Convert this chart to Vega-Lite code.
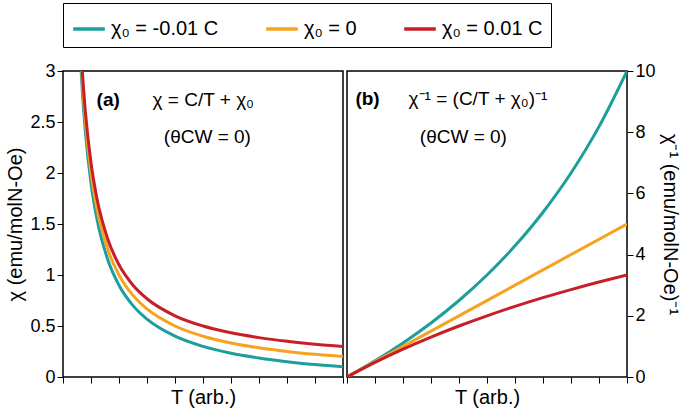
{
  "$schema": "https://vega.github.io/schema/vega-lite/v6.json",
  "background": "white",
  "padding": {"left": 5, "right": 5, "top": 2, "bottom": 5},
  "spacing": 0,
  "config": {
    "font": "Liberation Sans",
    "view": {"stroke": "black", "strokeWidth": 1.5},
    "axis": {"grid": false, "labelFontSize": 18, "titleFontSize": 20, "titleFontWeight": "normal", "domain": false, "tickColor": "black", "labelColor": "black", "titleColor": "black"},
    "legend": {"labelFontSize": 20, "symbolStrokeWidth": 3.5, "symbolSize": 1000, "symbolType": "stroke", "strokeColor": "black", "padding": 8, "columnPadding": 40, "title": null, "orient": "top", "direction": "horizontal", "offset": 14}
  },
  "datasets": {
    "curves": [
      {"panel": "a", "T": 3.0, "val": 3.233, "s": "χ₀ = -0.01 C"},
      {"panel": "a", "T": 3.5, "val": 2.757, "s": "χ₀ = -0.01 C"},
      {"panel": "a", "T": 4, "val": 2.4, "s": "χ₀ = -0.01 C"},
      {"panel": "a", "T": 5, "val": 1.9, "s": "χ₀ = -0.01 C"},
      {"panel": "a", "T": 6, "val": 1.567, "s": "χ₀ = -0.01 C"},
      {"panel": "a", "T": 8, "val": 1.15, "s": "χ₀ = -0.01 C"},
      {"panel": "a", "T": 10, "val": 0.9, "s": "χ₀ = -0.01 C"},
      {"panel": "a", "T": 12.5, "val": 0.7, "s": "χ₀ = -0.01 C"},
      {"panel": "a", "T": 15, "val": 0.567, "s": "χ₀ = -0.01 C"},
      {"panel": "a", "T": 20, "val": 0.4, "s": "χ₀ = -0.01 C"},
      {"panel": "a", "T": 25, "val": 0.3, "s": "χ₀ = -0.01 C"},
      {"panel": "a", "T": 30, "val": 0.233, "s": "χ₀ = -0.01 C"},
      {"panel": "a", "T": 35, "val": 0.186, "s": "χ₀ = -0.01 C"},
      {"panel": "a", "T": 40, "val": 0.15, "s": "χ₀ = -0.01 C"},
      {"panel": "a", "T": 45, "val": 0.122, "s": "χ₀ = -0.01 C"},
      {"panel": "a", "T": 50, "val": 0.1, "s": "χ₀ = -0.01 C"},
      {"panel": "a", "T": 3.0, "val": 3.333, "s": "χ₀ = 0"},
      {"panel": "a", "T": 3.5, "val": 2.857, "s": "χ₀ = 0"},
      {"panel": "a", "T": 4, "val": 2.5, "s": "χ₀ = 0"},
      {"panel": "a", "T": 5, "val": 2.0, "s": "χ₀ = 0"},
      {"panel": "a", "T": 6, "val": 1.667, "s": "χ₀ = 0"},
      {"panel": "a", "T": 8, "val": 1.25, "s": "χ₀ = 0"},
      {"panel": "a", "T": 10, "val": 1.0, "s": "χ₀ = 0"},
      {"panel": "a", "T": 12.5, "val": 0.8, "s": "χ₀ = 0"},
      {"panel": "a", "T": 15, "val": 0.667, "s": "χ₀ = 0"},
      {"panel": "a", "T": 20, "val": 0.5, "s": "χ₀ = 0"},
      {"panel": "a", "T": 25, "val": 0.4, "s": "χ₀ = 0"},
      {"panel": "a", "T": 30, "val": 0.333, "s": "χ₀ = 0"},
      {"panel": "a", "T": 35, "val": 0.286, "s": "χ₀ = 0"},
      {"panel": "a", "T": 40, "val": 0.25, "s": "χ₀ = 0"},
      {"panel": "a", "T": 45, "val": 0.222, "s": "χ₀ = 0"},
      {"panel": "a", "T": 50, "val": 0.2, "s": "χ₀ = 0"},
      {"panel": "a", "T": 3.0, "val": 3.433, "s": "χ₀ = 0.01 C"},
      {"panel": "a", "T": 3.5, "val": 2.957, "s": "χ₀ = 0.01 C"},
      {"panel": "a", "T": 4, "val": 2.6, "s": "χ₀ = 0.01 C"},
      {"panel": "a", "T": 5, "val": 2.1, "s": "χ₀ = 0.01 C"},
      {"panel": "a", "T": 6, "val": 1.767, "s": "χ₀ = 0.01 C"},
      {"panel": "a", "T": 8, "val": 1.35, "s": "χ₀ = 0.01 C"},
      {"panel": "a", "T": 10, "val": 1.1, "s": "χ₀ = 0.01 C"},
      {"panel": "a", "T": 12.5, "val": 0.9, "s": "χ₀ = 0.01 C"},
      {"panel": "a", "T": 15, "val": 0.767, "s": "χ₀ = 0.01 C"},
      {"panel": "a", "T": 20, "val": 0.6, "s": "χ₀ = 0.01 C"},
      {"panel": "a", "T": 25, "val": 0.5, "s": "χ₀ = 0.01 C"},
      {"panel": "a", "T": 30, "val": 0.433, "s": "χ₀ = 0.01 C"},
      {"panel": "a", "T": 35, "val": 0.386, "s": "χ₀ = 0.01 C"},
      {"panel": "a", "T": 40, "val": 0.35, "s": "χ₀ = 0.01 C"},
      {"panel": "a", "T": 45, "val": 0.322, "s": "χ₀ = 0.01 C"},
      {"panel": "a", "T": 50, "val": 0.3, "s": "χ₀ = 0.01 C"},
      {"panel": "b", "T": 0, "val": 0, "s": "χ₀ = -0.01 C"},
      {"panel": "b", "T": 5, "val": 0.526, "s": "χ₀ = -0.01 C"},
      {"panel": "b", "T": 10, "val": 1.111, "s": "χ₀ = -0.01 C"},
      {"panel": "b", "T": 15, "val": 1.765, "s": "χ₀ = -0.01 C"},
      {"panel": "b", "T": 20, "val": 2.5, "s": "χ₀ = -0.01 C"},
      {"panel": "b", "T": 25, "val": 3.333, "s": "χ₀ = -0.01 C"},
      {"panel": "b", "T": 30, "val": 4.286, "s": "χ₀ = -0.01 C"},
      {"panel": "b", "T": 35, "val": 5.385, "s": "χ₀ = -0.01 C"},
      {"panel": "b", "T": 40, "val": 6.667, "s": "χ₀ = -0.01 C"},
      {"panel": "b", "T": 45, "val": 8.182, "s": "χ₀ = -0.01 C"},
      {"panel": "b", "T": 50, "val": 10, "s": "χ₀ = -0.01 C"},
      {"panel": "b", "T": 0, "val": 0, "s": "χ₀ = 0"},
      {"panel": "b", "T": 50, "val": 5, "s": "χ₀ = 0"},
      {"panel": "b", "T": 0, "val": 0, "s": "χ₀ = 0.01 C"},
      {"panel": "b", "T": 5, "val": 0.476, "s": "χ₀ = 0.01 C"},
      {"panel": "b", "T": 10, "val": 0.909, "s": "χ₀ = 0.01 C"},
      {"panel": "b", "T": 15, "val": 1.304, "s": "χ₀ = 0.01 C"},
      {"panel": "b", "T": 20, "val": 1.667, "s": "χ₀ = 0.01 C"},
      {"panel": "b", "T": 25, "val": 2.0, "s": "χ₀ = 0.01 C"},
      {"panel": "b", "T": 30, "val": 2.308, "s": "χ₀ = 0.01 C"},
      {"panel": "b", "T": 35, "val": 2.593, "s": "χ₀ = 0.01 C"},
      {"panel": "b", "T": 40, "val": 2.857, "s": "χ₀ = 0.01 C"},
      {"panel": "b", "T": 45, "val": 3.103, "s": "χ₀ = 0.01 C"},
      {"panel": "b", "T": 50, "val": 3.333, "s": "χ₀ = 0.01 C"}
    ],
    "notes": [
      {"panel": "a", "T": 6, "val": 2.72, "txt": "(a)", "w": "bold"},
      {"panel": "a", "T": 16, "val": 2.72, "txt": "χ = C/T + χ₀", "w": "normal"},
      {"panel": "a", "T": 18, "val": 2.35, "txt": "(θCW = 0)", "w": "normal"},
      {"panel": "b", "T": 1.5, "val": 9.07, "txt": "(b)", "w": "bold"},
      {"panel": "b", "T": 11, "val": 9.07, "txt": "χ⁻¹ = (C/T + χ₀)⁻¹", "w": "normal"},
      {"panel": "b", "T": 13, "val": 7.83, "txt": "(θCW = 0)", "w": "normal"}
    ]
  },
  "hconcat": [
    {
      "width": 280, "height": 306,
      "layer": [
        {
          "data": {"name": "curves"},
          "transform": [{"filter": "datum.panel === 'a'"}],
          "mark": {"type": "line", "strokeWidth": 3, "clip": true, "interpolate": "monotone"},
          "encoding": {
            "x": {"field": "T", "type": "quantitative", "scale": {"domain": [0, 50]}, "axis": {"title": "T (arb.)", "labels": false, "tickCount": 10, "tickSize": 6}},
            "y": {"field": "val", "type": "quantitative", "scale": {"domain": [0, 3]}, "axis": {"title": "χ (emu/molN-Oe)", "values": [0, 0.5, 1, 1.5, 2, 2.5, 3], "format": "~g", "tickSize": 6}},
            "color": {"field": "s", "type": "nominal", "sort": ["χ₀ = -0.01 C", "χ₀ = 0", "χ₀ = 0.01 C"], "scale": {"domain": ["χ₀ = -0.01 C", "χ₀ = 0", "χ₀ = 0.01 C"], "range": ["#1b9e9c", "#f6a21e", "#c81e28"]}}
          }
        },
        {
          "data": {"name": "notes"},
          "transform": [{"filter": "datum.panel === 'a' && datum.w === 'bold'"}],
          "mark": {"type": "text", "align": "left", "fontSize": 19, "fontWeight": "bold", "color": "black"},
          "encoding": {
            "x": {"field": "T", "type": "quantitative"},
            "y": {"field": "val", "type": "quantitative"},
            "text": {"field": "txt"}
          }
        },
        {
          "data": {"name": "notes"},
          "transform": [{"filter": "datum.panel === 'a' && datum.w === 'normal'"}],
          "mark": {"type": "text", "align": "left", "fontSize": 19, "color": "black"},
          "encoding": {
            "x": {"field": "T", "type": "quantitative"},
            "y": {"field": "val", "type": "quantitative"},
            "text": {"field": "txt"}
          }
        }
      ]
    },
    {
      "width": 280, "height": 306,
      "layer": [
        {
          "data": {"name": "curves"},
          "transform": [{"filter": "datum.panel === 'b'"}],
          "mark": {"type": "line", "strokeWidth": 3, "clip": true, "interpolate": "monotone"},
          "encoding": {
            "x": {"field": "T", "type": "quantitative", "scale": {"domain": [0, 50]}, "axis": {"title": "T (arb.)", "labels": false, "tickCount": 10, "tickSize": 6}},
            "y": {"field": "val", "type": "quantitative", "scale": {"domain": [0, 10]}, "axis": {"orient": "right", "title": "χ⁻¹ (emu/molN-Oe)⁻¹", "values": [0, 2, 4, 6, 8, 10], "tickSize": 6}},
            "color": {"field": "s", "type": "nominal", "sort": ["χ₀ = -0.01 C", "χ₀ = 0", "χ₀ = 0.01 C"], "scale": {"domain": ["χ₀ = -0.01 C", "χ₀ = 0", "χ₀ = 0.01 C"], "range": ["#1b9e9c", "#f6a21e", "#c81e28"]}}
          }
        },
        {
          "data": {"name": "notes"},
          "transform": [{"filter": "datum.panel === 'b' && datum.w === 'bold'"}],
          "mark": {"type": "text", "align": "left", "fontSize": 19, "fontWeight": "bold", "color": "black"},
          "encoding": {
            "x": {"field": "T", "type": "quantitative"},
            "y": {"field": "val", "type": "quantitative"},
            "text": {"field": "txt"}
          }
        },
        {
          "data": {"name": "notes"},
          "transform": [{"filter": "datum.panel === 'b' && datum.w === 'normal'"}],
          "mark": {"type": "text", "align": "left", "fontSize": 19, "color": "black"},
          "encoding": {
            "x": {"field": "T", "type": "quantitative"},
            "y": {"field": "val", "type": "quantitative"},
            "text": {"field": "txt"}
          }
        }
      ]
    }
  ]
}
